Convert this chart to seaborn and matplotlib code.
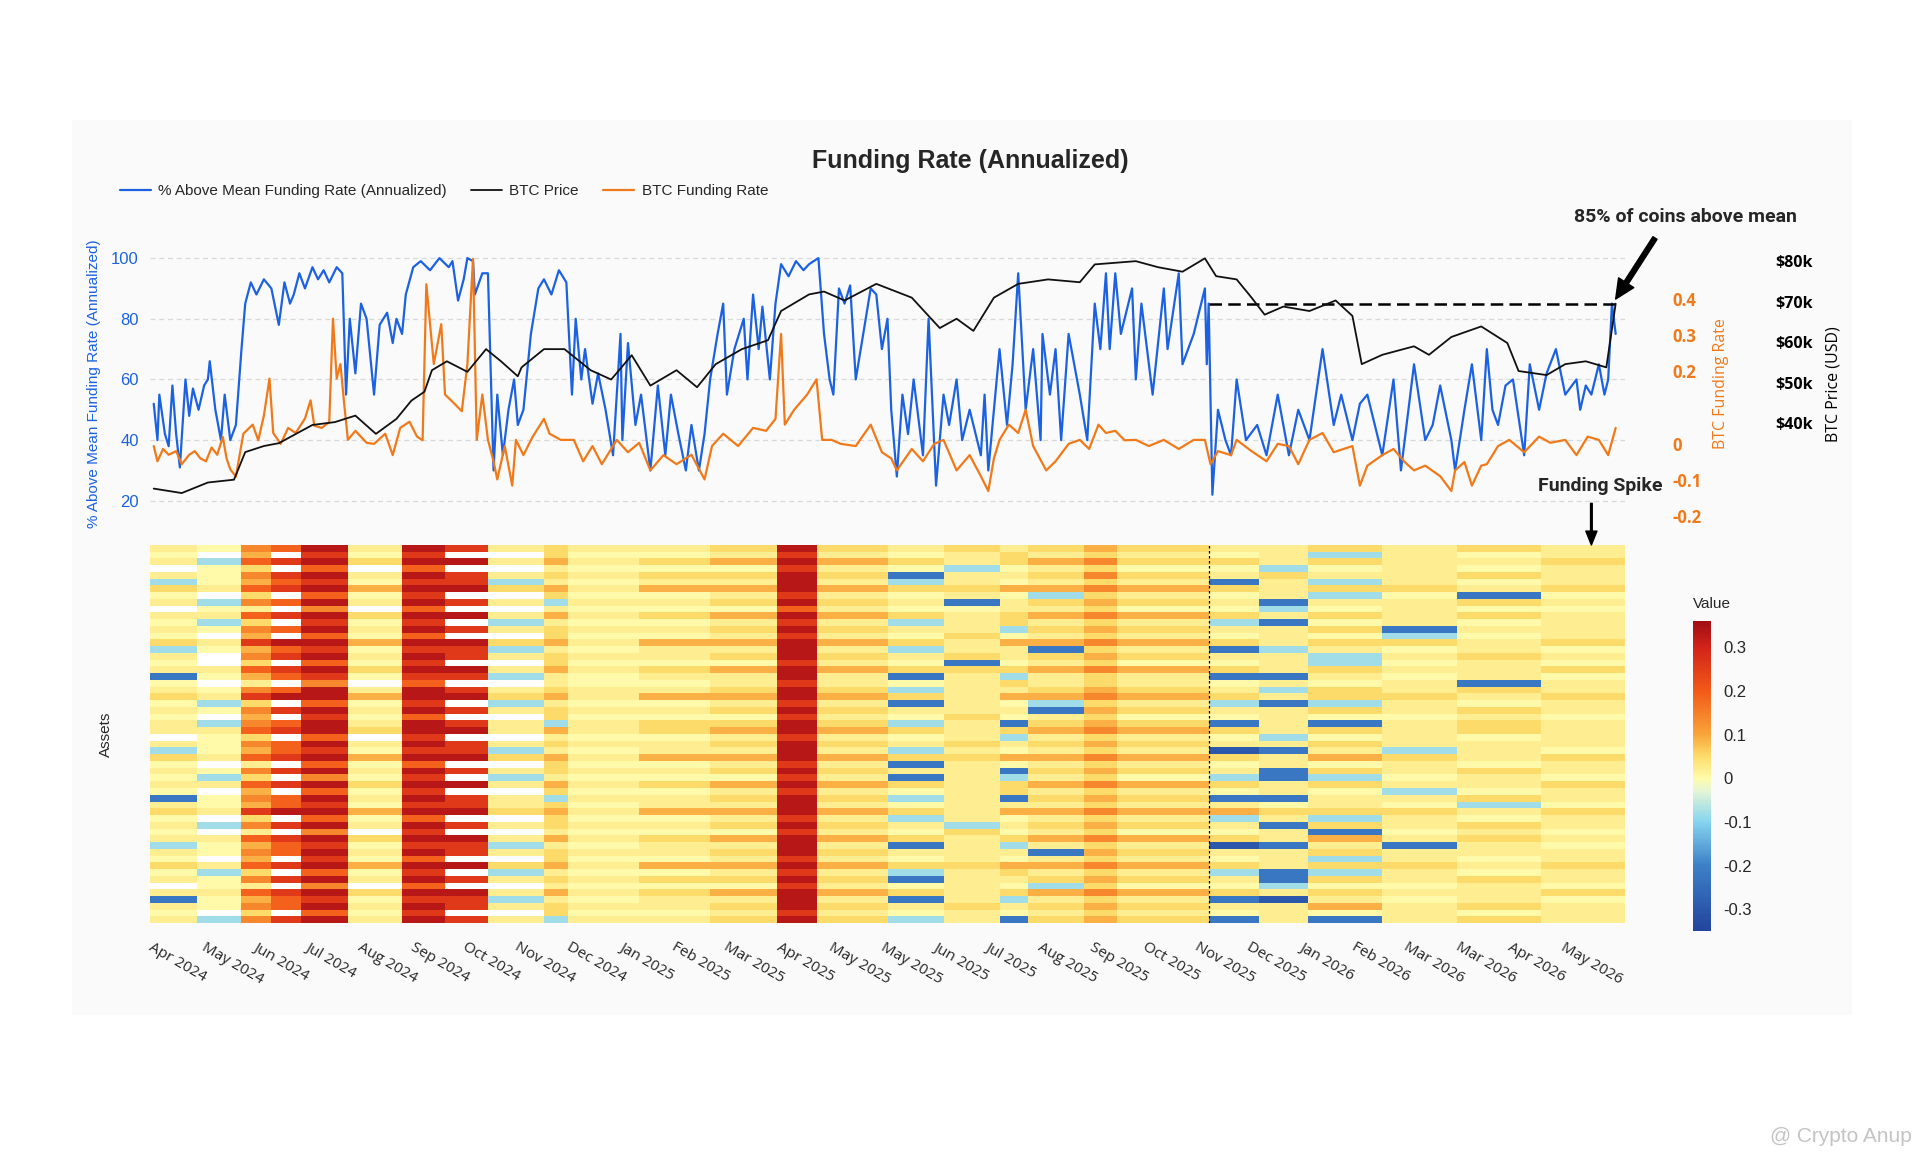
import matplotlib.pyplot as plt
import numpy as np
import seaborn as sns
from matplotlib.colors import LinearSegmentedColormap
from matplotlib.patches import Rectangle

# --- top panel series (day index from start of Apr 2024) ---
blue_day = [2, 4, 5, 8, 10, 12, 14, 16, 19, 21,
            23, 26, 29, 31, 32, 35, 38, 40, 43, 46,
            49, 51, 54, 57, 61, 65, 69, 72, 75, 77,
            80, 83, 87, 90, 93, 96, 100, 103, 105, 107,
            110, 113, 116, 120, 123, 127, 130, 132, 135, 137,
            141, 145, 150, 155, 160, 162, 165, 168, 170, 173,
            174, 178, 181, 184, 186, 189, 192, 195, 197, 200,
            204, 208, 211, 215, 219, 223, 226, 228, 231, 233,
            237, 240, 244, 248, 252, 253, 256, 260, 263, 268,
            272, 276, 279, 283, 287, 290, 294, 297, 300, 304,
            307, 309, 313, 318, 320, 323, 326, 328, 332, 335,
            338, 342, 346, 350, 353, 358, 361, 364, 366, 369,
            372, 375, 378, 382, 386, 389, 392, 395, 397, 400,
            403, 406, 409, 414, 417, 421, 425, 428, 432, 435,
            439, 445, 447, 449, 452, 455, 459, 462, 465, 469,
            473, 477, 478, 482, 485, 488, 492, 498, 502, 506,
            509, 512, 514, 517, 520, 526, 528, 531, 537, 543,
            545, 551, 553, 559, 565, 566, 567, 569, 572, 576,
            579, 582, 587, 593, 598, 604, 610, 615, 621, 628,
            634, 638, 644, 648, 652, 656, 660, 666, 670, 674,
            677, 683, 687, 691, 697, 699, 704, 708, 713, 716,
            719, 722, 726, 730, 736, 739, 744, 748, 753, 758,
            764, 766, 769, 772, 776, 779, 781, 783, 785]
blue_pct = [52, 40, 55, 42, 38, 58, 42, 31, 60, 48,
            57, 50, 58, 60, 66, 50, 40, 55, 40, 45,
            70, 85, 92, 88, 93, 90, 78, 92, 85, 88,
            95, 90, 97, 93, 96, 92, 97, 95, 55, 80,
            62, 85, 80, 55, 78, 82, 72, 80, 75, 88,
            97, 99, 96, 100, 97, 99, 86, 93, 100, 99,
            88, 95, 95, 30, 55, 35, 50, 60, 45, 50,
            75, 90, 93, 88, 96, 92, 55, 80, 60, 70,
            52, 62, 50, 35, 75, 40, 72, 45, 55, 30,
            58, 35, 55, 42, 30, 45, 30, 42, 60, 75,
            85, 55, 70, 80, 60, 88, 70, 84, 60, 85,
            98, 94, 99, 96, 98, 100, 75, 60, 55, 90,
            85, 91, 60, 75, 90, 88, 70, 80, 50, 28,
            55, 42, 60, 35, 80, 25, 55, 45, 60, 40,
            50, 35, 55, 30, 50, 70, 45, 65, 95, 50,
            70, 40, 75, 55, 70, 40, 75, 55, 40, 85,
            70, 95, 70, 95, 75, 90, 60, 85, 55, 90,
            70, 95, 65, 75, 90, 65, 85, 22, 50, 40,
            35, 60, 40, 45, 35, 55, 35, 50, 40, 70,
            45, 55, 40, 52, 55, 45, 35, 60, 30, 50,
            65, 40, 45, 58, 40, 30, 50, 65, 40, 70,
            50, 45, 58, 60, 35, 65, 50, 62, 70, 55,
            60, 50, 58, 55, 65, 55, 60, 85, 75]

rate_day = [2, 4, 7, 10, 14, 17, 21, 24, 27, 30,
            33, 36, 39, 41, 43, 46, 50, 55, 58, 61,
            64, 66, 70, 74, 78, 83, 86, 88, 92, 96,
            98, 100, 102, 104, 106, 110, 116, 120, 126, 130,
            134, 139, 143, 146, 148, 152, 156, 158, 163, 167,
            170, 173, 175, 178, 181, 184, 186, 190, 194, 196,
            200, 205, 211, 214, 220, 227, 232, 237, 242, 250,
            256, 262, 268, 275, 282, 290, 297, 301, 307, 315,
            323, 330, 335, 338, 340, 345, 352, 357, 360, 365,
            370, 378, 386, 392, 397, 400, 408, 414, 420, 425,
            432, 439, 445, 449, 452, 455, 460, 465, 469, 473,
            480, 485, 492, 498, 503, 508, 512, 517, 522, 528,
            535, 543, 551, 559, 565, 568, 572, 579, 582, 590,
            598, 604, 610, 615, 621, 628, 634, 644, 648, 652,
            660, 666, 672, 677, 683, 691, 697, 699, 704, 708,
            713, 716, 722, 728, 736, 744, 750, 758, 764, 770,
            776, 781, 785]
btc_rate = [-0.006, -0.048, -0.014, -0.03, -0.02, -0.056, -0.03, -0.02, -0.04, -0.048,
            -0.01, -0.03, 0.019, -0.04, -0.07, -0.09, 0.028, 0.053, 0.01, 0.078,
            0.18, 0.03, 0.0, 0.044, 0.03, 0.07, 0.12, 0.05, 0.044, 0.06,
            0.345, 0.18, 0.22, 0.11, 0.011, 0.036, 0.003, 0.0, 0.028, -0.031,
            0.044, 0.061, 0.02, 0.01, 0.44, 0.22, 0.33, 0.136, 0.111, 0.09,
            0.22, 0.51, 0.011, 0.136, 0.011, -0.048, -0.098, -0.006, -0.115, 0.011,
            -0.031, 0.02, 0.069, 0.028, 0.011, 0.011, -0.048, -0.006, -0.056, 0.011,
            -0.023, 0.003, -0.073, -0.031, -0.056, -0.03, -0.098, -0.006, 0.028, -0.006,
            0.044, 0.036, 0.069, 0.303, 0.053, 0.094, 0.136, 0.178, 0.011, 0.011,
            0.0, -0.006, 0.053, -0.023, -0.04, -0.073, -0.014, -0.048, 0.0, 0.011,
            -0.073, -0.031, -0.089, -0.13, -0.04, 0.011, 0.053, 0.03, 0.094, -0.006,
            -0.073, -0.048, 0.0, 0.011, -0.014, 0.053, 0.03, 0.036, 0.01, 0.011,
            -0.006, 0.011, -0.014, 0.011, 0.011, -0.056, -0.02, -0.031, 0.011, -0.02,
            -0.048, 0.0, -0.006, -0.056, 0.011, 0.03, -0.023, -0.006, -0.115, -0.06,
            -0.031, -0.014, -0.05, -0.073, -0.06, -0.089, -0.13, -0.073, -0.05, -0.115,
            -0.06, -0.056, -0.006, 0.011, -0.023, 0.02, 0.003, 0.011, -0.031, 0.02,
            0.011, -0.031, 0.044]

price_day = [2, 17, 31, 45, 51, 61, 69, 87, 99, 110,
             121, 132, 140, 147, 151, 159, 170, 180, 188, 197,
             199, 211, 222, 236, 247, 258, 268, 282, 293, 303,
             317, 331, 338, 353, 361, 372, 389, 408, 417, 423,
             432, 441, 452, 465, 481, 498, 506, 528, 540, 553,
             565, 571, 582, 590, 597, 607, 621, 635, 644, 649,
             660, 677, 685, 697, 713, 727, 733, 748, 758, 769,
             780, 785]
btc_price_k = [23.9, 22.8, 25.4, 26.1, 32.9, 34.4, 35.1, 39.6, 40.3, 41.9,
               37.4, 41.1, 45.6, 47.8, 53.1, 55.3, 52.7, 58.3, 55.3, 51.6,
               53.8, 58.3, 58.3, 53.1, 50.8, 56.8, 49.3, 53.1, 48.9, 54.6,
               58.3, 60.5, 67.7, 71.8, 72.5, 70.3, 74.4, 71.0, 66.5, 63.5,
               65.8, 62.8, 71.0, 74.4, 75.5, 74.8, 79.2, 80.0, 78.5, 77.4,
               80.7, 76.3, 75.5, 71.0, 66.8, 68.8, 67.7, 70.3, 66.5, 54.6,
               56.9, 59.0, 56.9, 61.3, 63.9, 59.8, 52.9, 51.9, 54.6, 55.3,
               53.8, 69.5]

mark_level = 85
mark_start = 567
spike_day = 772

# --- heatmap: assets x time segments (codes) ---
hm_seg_edges = [0, 25, 49, 65, 81, 106, 135, 158, 181, 211, 224, 262, 300, 336,
                357, 395, 425, 455, 470, 500, 518, 567, 594, 620, 660, 700, 745, 790]
hm_levels = {'w': np.nan, '0': 0.0, '1': 0.02, '2': 0.05, '3': 0.09, '4': 0.14,
             '5': 0.19, '6': 0.26, '7': 0.33, 'c': -0.08, 'b': -0.22, 'B': -0.3}
hm_rows = [
    "10 457 1 76 12112 7 2121232 112121",
    "0w 3w6 0 6w w2001 6 1012121 01c101",
    "1c 567 2 77 13123 7 3212342 212112",
    "w0 2w5 w 5w w1000 6 10c0120 0c0101",
    "10 467 1 76 12122 7 2b11242 121121",
    "c0 356 0 66 c1011 7 1c10121 b1c101",
    "21 567 3 77 23133 7 3223343 212212",
    "0w 2w5 0 6w w2001 6 1010c21 01c0b0",
    "1c 457 1 76 1c112 7 21b1232 1b1121",
    "w0 1w4 w 5w w1000 5 1001120 0c0100",
    "11 567 2 77 13123 7 3212343 212121",
    "0c 2w6 0 6w c1001 6 1c12121 cb0101",
    "10 457 1 76 12112 7 211c232 112b11",
    "0w 3w5 0 5w w2001 6 1020121 010c01",
    "21 677 3 77 23133 7 3213343 212212",
    "c0 356 0 66 c1011 7 1c11b21 bc1010",
    "1w 467 1 76 12112 7 2121232 11c121",
    "0w 2w5 0 6w w2000 6 10b0120 01c010",
    "11 567 2 77 13123 7 3222343 212112",
    "b0 356 0 66 c1011 7 1b1c121 bb1010",
    "0w 1w4 w 5w w1001 6 1012121 0101b1",
    "10 457 1 76 12112 7 2c11232 1c2121",
    "21 677 3 77 23133 7 3213343 212212",
    "0c 2w5 0 6w c1001 6 1b10c21 cbc101",
    "10 467 1 76 12112 7 2111b32 112121",
    "0w 3w6 0 5w w2000 6 1020120 010010",
    "1c 457 1 76 1c122 7 2c1b232 b1b121",
    "11 567 2 77 13123 7 3212343 212121",
    "w0 2w5 w 6w w1001 6 101c121 0c0101",
    "10 457 1 76 12112 7 2121232 112111",
    "c0 356 0 66 c1011 7 1c10121 Bb1c10",
    "21 567 3 77 23133 7 3223343 213212",
    "0w 1w5 0 5w w2001 6 1b10121 010101",
    "10 467 1 76 12112 7 211b232 1b2121",
    "0c 2w4 0 6w c1000 6 1b1c120 cbc010",
    "11 567 2 77 13123 7 3212343 212112",
    "0w 3w5 0 6w w2001 6 1012121 010c01",
    "b0 457 1 76 1c112 7 2c1b232 bb1121",
    "10 356 0 66 12011 7 1011121 1010c0",
    "21 677 3 77 23133 7 3213343 322212",
    "0w 2w5 0 5w w2001 6 1c10121 c1c101",
    "1c 467 1 76 12112 7 21c1232 1b2121",
    "0w 1w4 w 6w w1000 6 1020120 01b010",
    "11 567 2 77 13123 7 3212343 213121",
    "c0 356 0 66 c1011 7 1b1c121 Bb1b10",
    "10 457 1 76 12112 7 2111b32 112111",
    "0w 3w6 0 5w w2001 6 1010121 01c101",
    "21 567 3 77 23133 7 3223343 212212",
    "0c 2w5 0 6w c1001 6 1c12121 cbc101",
    "10 467 1 76 12122 7 2b11232 1b2121",
    "w0 1w4 w 5w w1000 6 1010c20 0c0010",
    "11 567 2 77 13123 7 3212343 212112",
    "b0 356 0 66 c1011 7 1b1c121 bB1010",
    "10 457 1 76 12112 7 2121232 113121",
    "0w 2w5 0 6w w2001 6 1010121 010101",
    "1c 467 1 76 1c112 7 2c1b232 b1b121",
]

tick_days = [2 + 28 * k for k in range(28)]
tick_labels = ['Apr 2024', 'May 2024', 'Jun 2024', 'Jul 2024', 'Aug 2024', 'Sep 2024',
               'Oct 2024', 'Nov 2024', 'Dec 2024', 'Jan 2025', 'Feb 2025', 'Mar 2025',
               'Apr 2025', 'May 2025', 'May 2025', 'Jun 2025', 'Jul 2025', 'Aug 2025',
               'Sep 2025', 'Oct 2025', 'Nov 2025', 'Dec 2025', 'Jan 2026', 'Feb 2026',
               'Mar 2026', 'Mar 2026', 'Apr 2026', 'May 2026']

BLUE = '#1c62e0'
ORANGE = '#f07a1a'
VMIN, VMAX = -0.35, 0.36

sns.set_theme(style='white')
plt.rcParams['font.family'] = ['Liberation Sans', 'DejaVu Sans']

W, H = 1920, 1153
fig = plt.figure(figsize=(W / 100, H / 100), dpi=100)
fig.patch.set_facecolor('white')


def box(x0, y0, x1, y1):
    return [x0 / W, 1 - y1 / H, (x1 - x0) / W, (y1 - y0) / H]


# faint backdrop panel
fig.add_artist(Rectangle((72 / W, 1 - 1015 / H), (1852 - 72) / W, (1015 - 120) / H,
                         transform=fig.transFigure, facecolor='#fafafa',
                         edgecolor='none', zorder=-5))

# --- top line panel ---
ax = fig.add_axes(box(150, 249, 1625, 519))
ax.set_facecolor('none')
ax_fr = ax.twinx()
ax_px = ax.twinx()

sns.lineplot(x=blue_day, y=blue_pct, ax=ax, color=BLUE, lw=1.6, legend=False,
             label='% Above Mean Funding Rate (Annualized)', zorder=3)
sns.lineplot(x=rate_day, y=btc_rate, ax=ax_fr, color=ORANGE, lw=1.6, legend=False,
             label='BTC Funding Rate')
sns.lineplot(x=price_day, y=btc_price_k, ax=ax_px, color='#111111', lw=1.3, legend=False,
             label='BTC Price')
ax.hlines(mark_level, mark_start, max(blue_day) + 2, colors='black',
          linestyles=(0, (5, 2.5)), lw=1.8, zorder=4)

ax.set_xlim(0, 790)
ax.set_ylim(14, 103)
ax_fr.set_ylim(-0.207, 0.537)
ax_px.set_ylim(16.4, 83.0)
ax.set_xticks([])
ax.set_xlabel('')

ax.set_yticks([20, 40, 60, 80, 100])
ax.yaxis.grid(True, color='#d9d9d9', ls=(0, (4, 3)), lw=0.9)
ax.xaxis.grid(False)
ax.tick_params(axis='y', length=0, pad=8, labelsize=12, labelcolor=BLUE)
ax.set_ylabel('% Above Mean Funding Rate (Annualized)', color=BLUE, fontsize=11)
ax.yaxis.set_label_coords(-0.033, 0.5)

ax_fr.set_yticks([-0.2, -0.1, 0, 0.2, 0.3, 0.4])
ax_fr.set_yticklabels(['-0.2', '-0.1', '0', '0.2', '0.3', '0.4'])
ax_fr.tick_params(axis='y', length=0, pad=34, labelsize=12, labelcolor=ORANGE)
for t in ax_fr.get_yticklabels():
    t.set_fontfamily('Open Sans')
    t.set_fontweight('bold')
ax_fr.set_ylabel('BTC Funding Rate', color=ORANGE, fontsize=11.5, family='Open Sans')
ax_fr.yaxis.set_label_coords(1.0597, 0.5)
ax_fr.grid(False)

ax_px.set_yticks([40, 50, 60, 70, 80])
ax_px.set_yticklabels(['$%dk' % v for v in [40, 50, 60, 70, 80]])
ax_px.tick_params(axis='y', length=0, pad=108, labelsize=11.5, labelcolor='black')
for t in ax_px.get_yticklabels():
    t.set_fontfamily('Open Sans')
    t.set_fontweight('bold')
ax_px.set_ylabel('BTC Price (USD)', color='black', fontsize=11.5, family='Open Sans')
ax_px.yaxis.set_label_coords(1.1356, 0.5)
ax_px.grid(False)

for a in (ax, ax_fr, ax_px):
    for s in a.spines.values():
        s.set_visible(False)

handles = [ax.lines[0], ax_px.lines[0], ax_fr.lines[0]]
fig.legend(handles, [h.get_label() for h in handles], loc='center left',
           bbox_to_anchor=(120 / W, 1 - 191 / H), ncol=3, frameon=False, fontsize=11,
           handlelength=2.0, handletextpad=0.5, columnspacing=1.6,
           borderpad=0, borderaxespad=0)

fig.text(970 / W, 1 - 161 / H, 'Funding Rate (Annualized)', ha='center', va='center',
         fontsize=18, fontweight='bold')

# --- heatmap ---
cmap_stops = [(-0.35, '#22449c'), (-0.2, '#3d80c8'), (-0.1, '#86d4ef'), (-0.03, '#e4f5d6'),
              (0.0, '#fffbaa'), (0.05, '#fddc6c'), (0.1, '#f9a53a'), (0.2, '#f25a19'),
              (0.3, '#d2231a'), (0.36, '#a00f14')]
cmap = LinearSegmentedColormap.from_list(
    'funding', [((v - VMIN) / (VMAX - VMIN), c) for v, c in cmap_stops])

hm_vals = np.array([[hm_levels[ch] for ch in row.replace(' ', '')] for row in hm_rows])
hm = np.repeat(hm_vals, np.diff(hm_seg_edges), axis=1)

ax_hm = fig.add_axes(box(150, 545, 1625, 923))
cax = fig.add_axes(box(1693, 621, 1711, 931))
ax_hm.set_facecolor('white')
sns.heatmap(hm, ax=ax_hm, cmap=cmap, vmin=VMIN, vmax=VMAX, cbar_ax=cax,
            xticklabels=False, yticklabels=False,
            cbar_kws={'ticks': [-0.3, -0.2, -0.1, 0, 0.1, 0.2, 0.3]})
ax_hm.axvline(mark_start, color='black', ls=(0, (2, 2)), lw=0.9)

ax_hm.set_xticks(tick_days)
ax_hm.set_xticklabels(tick_labels, rotation=-30, ha='left', va='top',
                      rotation_mode='anchor', fontsize=11, family='Open Sans')
ax_hm.tick_params(axis='x', length=0, pad=12)
ax_hm.set_ylabel('Assets', fontsize=11)
ax_hm.yaxis.set_label_coords(-0.025, 0.5)

cbar = ax_hm.collections[0].colorbar
cbar.outline.set_visible(False)
cax.set_yticklabels(['-0.3', '-0.2', '-0.1', '0', '0.1', '0.2', '0.3'])
cax.tick_params(length=0, labelsize=12, pad=9)
cax.set_title('Value', loc='left', fontsize=11, pad=9)

# --- annotations ---
fig.text(1685 / W, 1 - 217 / H, '85% of coins above mean', ha='center', va='center',
         family='Roboto', fontweight='bold', fontsize=14)
ax.annotate('', xy=(785, mark_level + 1.5), xytext=(1655 / W, 1 - 238 / H),
            textcoords='figure fraction', annotation_clip=False,
            arrowprops=dict(facecolor='black', edgecolor='black', width=3.5,
                            headwidth=13, headlength=14, shrink=0))

fig.text(1600 / W, 1 - 486 / H, 'Funding Spike', ha='center', va='center',
         family='Roboto', fontweight='bold', fontsize=14)
ax_hm.annotate('', xy=(spike_day, 0), xytext=(0, 30), textcoords='offset points',
               annotation_clip=False,
               arrowprops=dict(facecolor='black', edgecolor='black', width=1.2,
                               headwidth=8, headlength=10, shrink=0))

fig.text(1912 / W, 1 - 1136 / H, '@ Crypto Anup', ha='right', va='center',
         fontsize=15, color='#c4c4c4')

fig.savefig('out.png', dpi=100)
